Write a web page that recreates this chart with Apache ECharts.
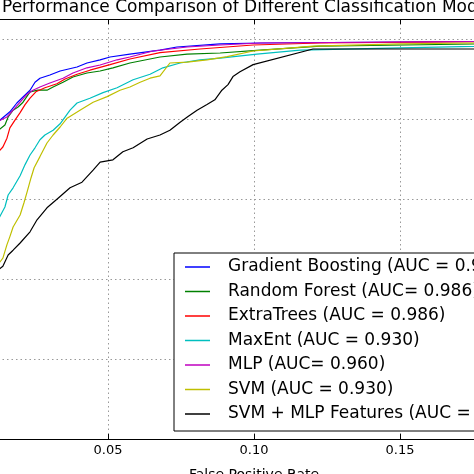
<!DOCTYPE html>
<html>
<head>
<meta charset="utf-8">
<script src="https://cdn.jsdelivr.net/npm/echarts@6/dist/echarts.min.js"></script>
<style>
  html, body { margin: 0; padding: 0; background: #fff; }
  #chart { width: 474px; height: 474px; }
</style>
</head>
<body>
<div id="chart"></div>
<script>
  // ROC points [false positive rate, true positive rate]
  const gradientBoosting = [
    [0.0125, 0.897], [0.0164, 0.909], [0.0188, 0.920], [0.0209, 0.9275], [0.0233, 0.936],
    [0.0250, 0.946], [0.0267, 0.951], [0.0301, 0.955], [0.0336, 0.960], [0.0394, 0.965],
    [0.0428, 0.970], [0.0473, 0.974], [0.0507, 0.9775], [0.0575, 0.981], [0.0678, 0.986],
    [0.0736, 0.990], [0.0884, 0.994], [0.1021, 0.995], [0.2, 0.9975]
  ];
  const randomForest = [
    [0.0125, 0.886], [0.0147, 0.8925], [0.0158, 0.9025], [0.0175, 0.911], [0.0192, 0.915],
    [0.0209, 0.921], [0.0233, 0.934], [0.0260, 0.936], [0.0291, 0.936], [0.0312, 0.940],
    [0.0346, 0.946], [0.0380, 0.9525], [0.0428, 0.9575], [0.0473, 0.960], [0.0517, 0.964],
    [0.0575, 0.970], [0.0678, 0.9775], [0.0771, 0.981], [0.0884, 0.9825], [0.1021, 0.986],
    [0.1226, 0.991], [0.2, 0.995]
  ];
  const extraTrees = [
    [0.0125, 0.859], [0.0140, 0.865], [0.0154, 0.876], [0.0164, 0.889], [0.0182, 0.899],
    [0.0199, 0.908], [0.0216, 0.918], [0.0233, 0.926], [0.0253, 0.934], [0.0284, 0.939],
    [0.0325, 0.944], [0.0353, 0.950], [0.0394, 0.956], [0.0438, 0.961], [0.0507, 0.968],
    [0.0575, 0.975], [0.0678, 0.983], [0.0815, 0.9875], [0.0997, 0.9925], [0.1226, 0.995],
    [0.2, 0.9975]
  ];
  const maxEnt = [
    [0.0125, 0.775], [0.0147, 0.790], [0.0158, 0.805], [0.0175, 0.814], [0.0199, 0.829],
    [0.0216, 0.843], [0.0233, 0.855], [0.0250, 0.864], [0.0267, 0.874], [0.0284, 0.880],
    [0.0312, 0.886], [0.0336, 0.894], [0.0370, 0.911], [0.0394, 0.920], [0.0438, 0.926],
    [0.0483, 0.933], [0.0531, 0.939], [0.0586, 0.949], [0.0644, 0.956], [0.0688, 0.964],
    [0.0747, 0.970], [0.0815, 0.974], [0.0884, 0.976], [0.1010, 0.981], [0.1158, 0.986],
    [0.1500, 0.989], [0.2, 0.9925]
  ];
  const mlp = [
    [0.0125, 0.8975], [0.0154, 0.9025], [0.0175, 0.911], [0.0199, 0.921], [0.0223, 0.931],
    [0.0243, 0.936], [0.0267, 0.940], [0.0301, 0.945], [0.0346, 0.951], [0.0380, 0.9575],
    [0.0428, 0.964], [0.0473, 0.9675], [0.0531, 0.974], [0.0575, 0.9775], [0.0654, 0.985],
    [0.0771, 0.990], [0.0884, 0.9925], [0.1021, 0.995], [0.2, 0.9975]
  ];
  const svm = [
    [0.0125, 0.719], [0.0140, 0.726], [0.0154, 0.743], [0.0164, 0.753], [0.0175, 0.765],
    [0.0199, 0.780], [0.0212, 0.795], [0.0223, 0.809], [0.0236, 0.826], [0.0247, 0.839],
    [0.0267, 0.853], [0.0291, 0.870], [0.0312, 0.880], [0.0336, 0.890], [0.0360, 0.901],
    [0.0404, 0.911], [0.0449, 0.921], [0.0497, 0.928], [0.0541, 0.936], [0.0575, 0.940],
    [0.0610, 0.946], [0.0644, 0.951], [0.0678, 0.954], [0.0712, 0.970], [0.0771, 0.971],
    [0.0839, 0.974], [0.0908, 0.978], [0.0997, 0.985], [0.1202, 0.991], [0.1500, 0.994],
    [0.2, 0.996]
  ];
  const svmMlp = [
    [0.0123, 0.711], [0.0140, 0.716], [0.0158, 0.730], [0.0175, 0.736], [0.0199, 0.745],
    [0.0233, 0.759], [0.0257, 0.774], [0.0291, 0.789], [0.0329, 0.801], [0.0370, 0.814],
    [0.0411, 0.821], [0.0449, 0.836], [0.0473, 0.846], [0.0517, 0.849], [0.0551, 0.859],
    [0.0586, 0.864], [0.0634, 0.875], [0.0678, 0.880], [0.0712, 0.886], [0.0747, 0.896],
    [0.0774, 0.903], [0.0805, 0.911], [0.0839, 0.918], [0.0866, 0.924], [0.0890, 0.936],
    [0.0911, 0.943], [0.0928, 0.953], [0.0952, 0.959], [0.0997, 0.968], [0.1202, 0.9875],
    [0.2, 0.9875]
  ];

  const names = [
    'Gradient Boosting (AUC = 0.989)',
    'Random Forest (AUC= 0.986)',
    'ExtraTrees (AUC = 0.986)',
    'MaxEnt (AUC = 0.930)',
    'MLP (AUC= 0.960)',
    'SVM (AUC = 0.930)',
    'SVM + MLP Features (AUC = 0.898)'
  ];
  const curves = [gradientBoosting, randomForest, extraTrees, maxEnt, mlp, svm, svmMlp];
  const colors = ['#0000ff', '#008000', '#ff0000', '#00bfbf', '#bf00bf', '#bfbf00', '#000000'];

  const xTicks = { min: 0, max: 0.2, interval: 0.05 };
  const yTicks = { min: 0.5, max: 1.025, interval: 0.1 };

  const font = 'DejaVu Sans';
  const gridLine = { show: true, lineStyle: { color: '#999', width: 1, type: [1.5, 3] } };

  const chart = echarts.init(document.getElementById('chart'));
  chart.setOption({
    animation: false,
    backgroundColor: '#fff',
    title: {
      text: 'Performance Comparison of Different Classification Models',
      left: 2,
      top: -1,
      padding: 0,
      textStyle: { fontFamily: font, fontSize: 17, fontWeight: 'normal', color: '#000' }
    },
    // plot area runs past both sides of the picture (it is a crop)
    grid: { left: -38, right: -72, top: 19, bottom: 35, containLabel: false, outerBoundsMode: 'none' },
    legend: {
      orient: 'vertical',
      left: 174,
      top: 253,
      data: names,
      icon: 'rect',
      itemWidth: 25,
      itemHeight: 1.5,
      itemGap: 4.5,
      padding: [4, 10, 7, 11],
      borderColor: '#000',
      borderWidth: 1,
      borderRadius: 0,
      backgroundColor: '#fff',
      textStyle: { fontFamily: font, fontSize: 17, lineHeight: 20, color: '#000', padding: [0, 0, 0, 13] }
    },
    xAxis: [
      {
        type: 'value',
        position: 'bottom',
        ...xTicks,
        name: 'False Positive Rate',
        nameLocation: 'middle',
        nameGap: 29,
        nameTextStyle: { fontFamily: font, fontSize: 14, color: '#000' },
        axisLine: { lineStyle: { color: '#000', width: 1 } },
        axisTick: { inside: true, length: 5, lineStyle: { color: '#000' } },
        axisLabel: { fontFamily: font, fontSize: 13, color: '#000', margin: 5, formatter: v => v.toFixed(2) },
        splitLine: gridLine
      },
      {
        type: 'value',
        position: 'top',
        ...xTicks,
        axisLine: { lineStyle: { color: '#000', width: 1 } },
        axisTick: { inside: true, length: 5, lineStyle: { color: '#000' } },
        axisLabel: { show: false },
        splitLine: { show: false }
      }
    ],
    yAxis: {
      type: 'value',
      ...yTicks,
      axisLine: { show: true, lineStyle: { color: '#000' } },
      axisTick: { inside: true, length: 5 },
      axisLabel: { show: false },
      splitLine: gridLine
    },
    series: curves.map((data, i) => ({
      name: names[i],
      type: 'line',
      data: data,
      showSymbol: false,
      symbol: 'none',
      color: colors[i],
      lineStyle: { color: colors[i], width: 1.2 },
      clip: true
    }))
  });
</script>
</body>
</html>
